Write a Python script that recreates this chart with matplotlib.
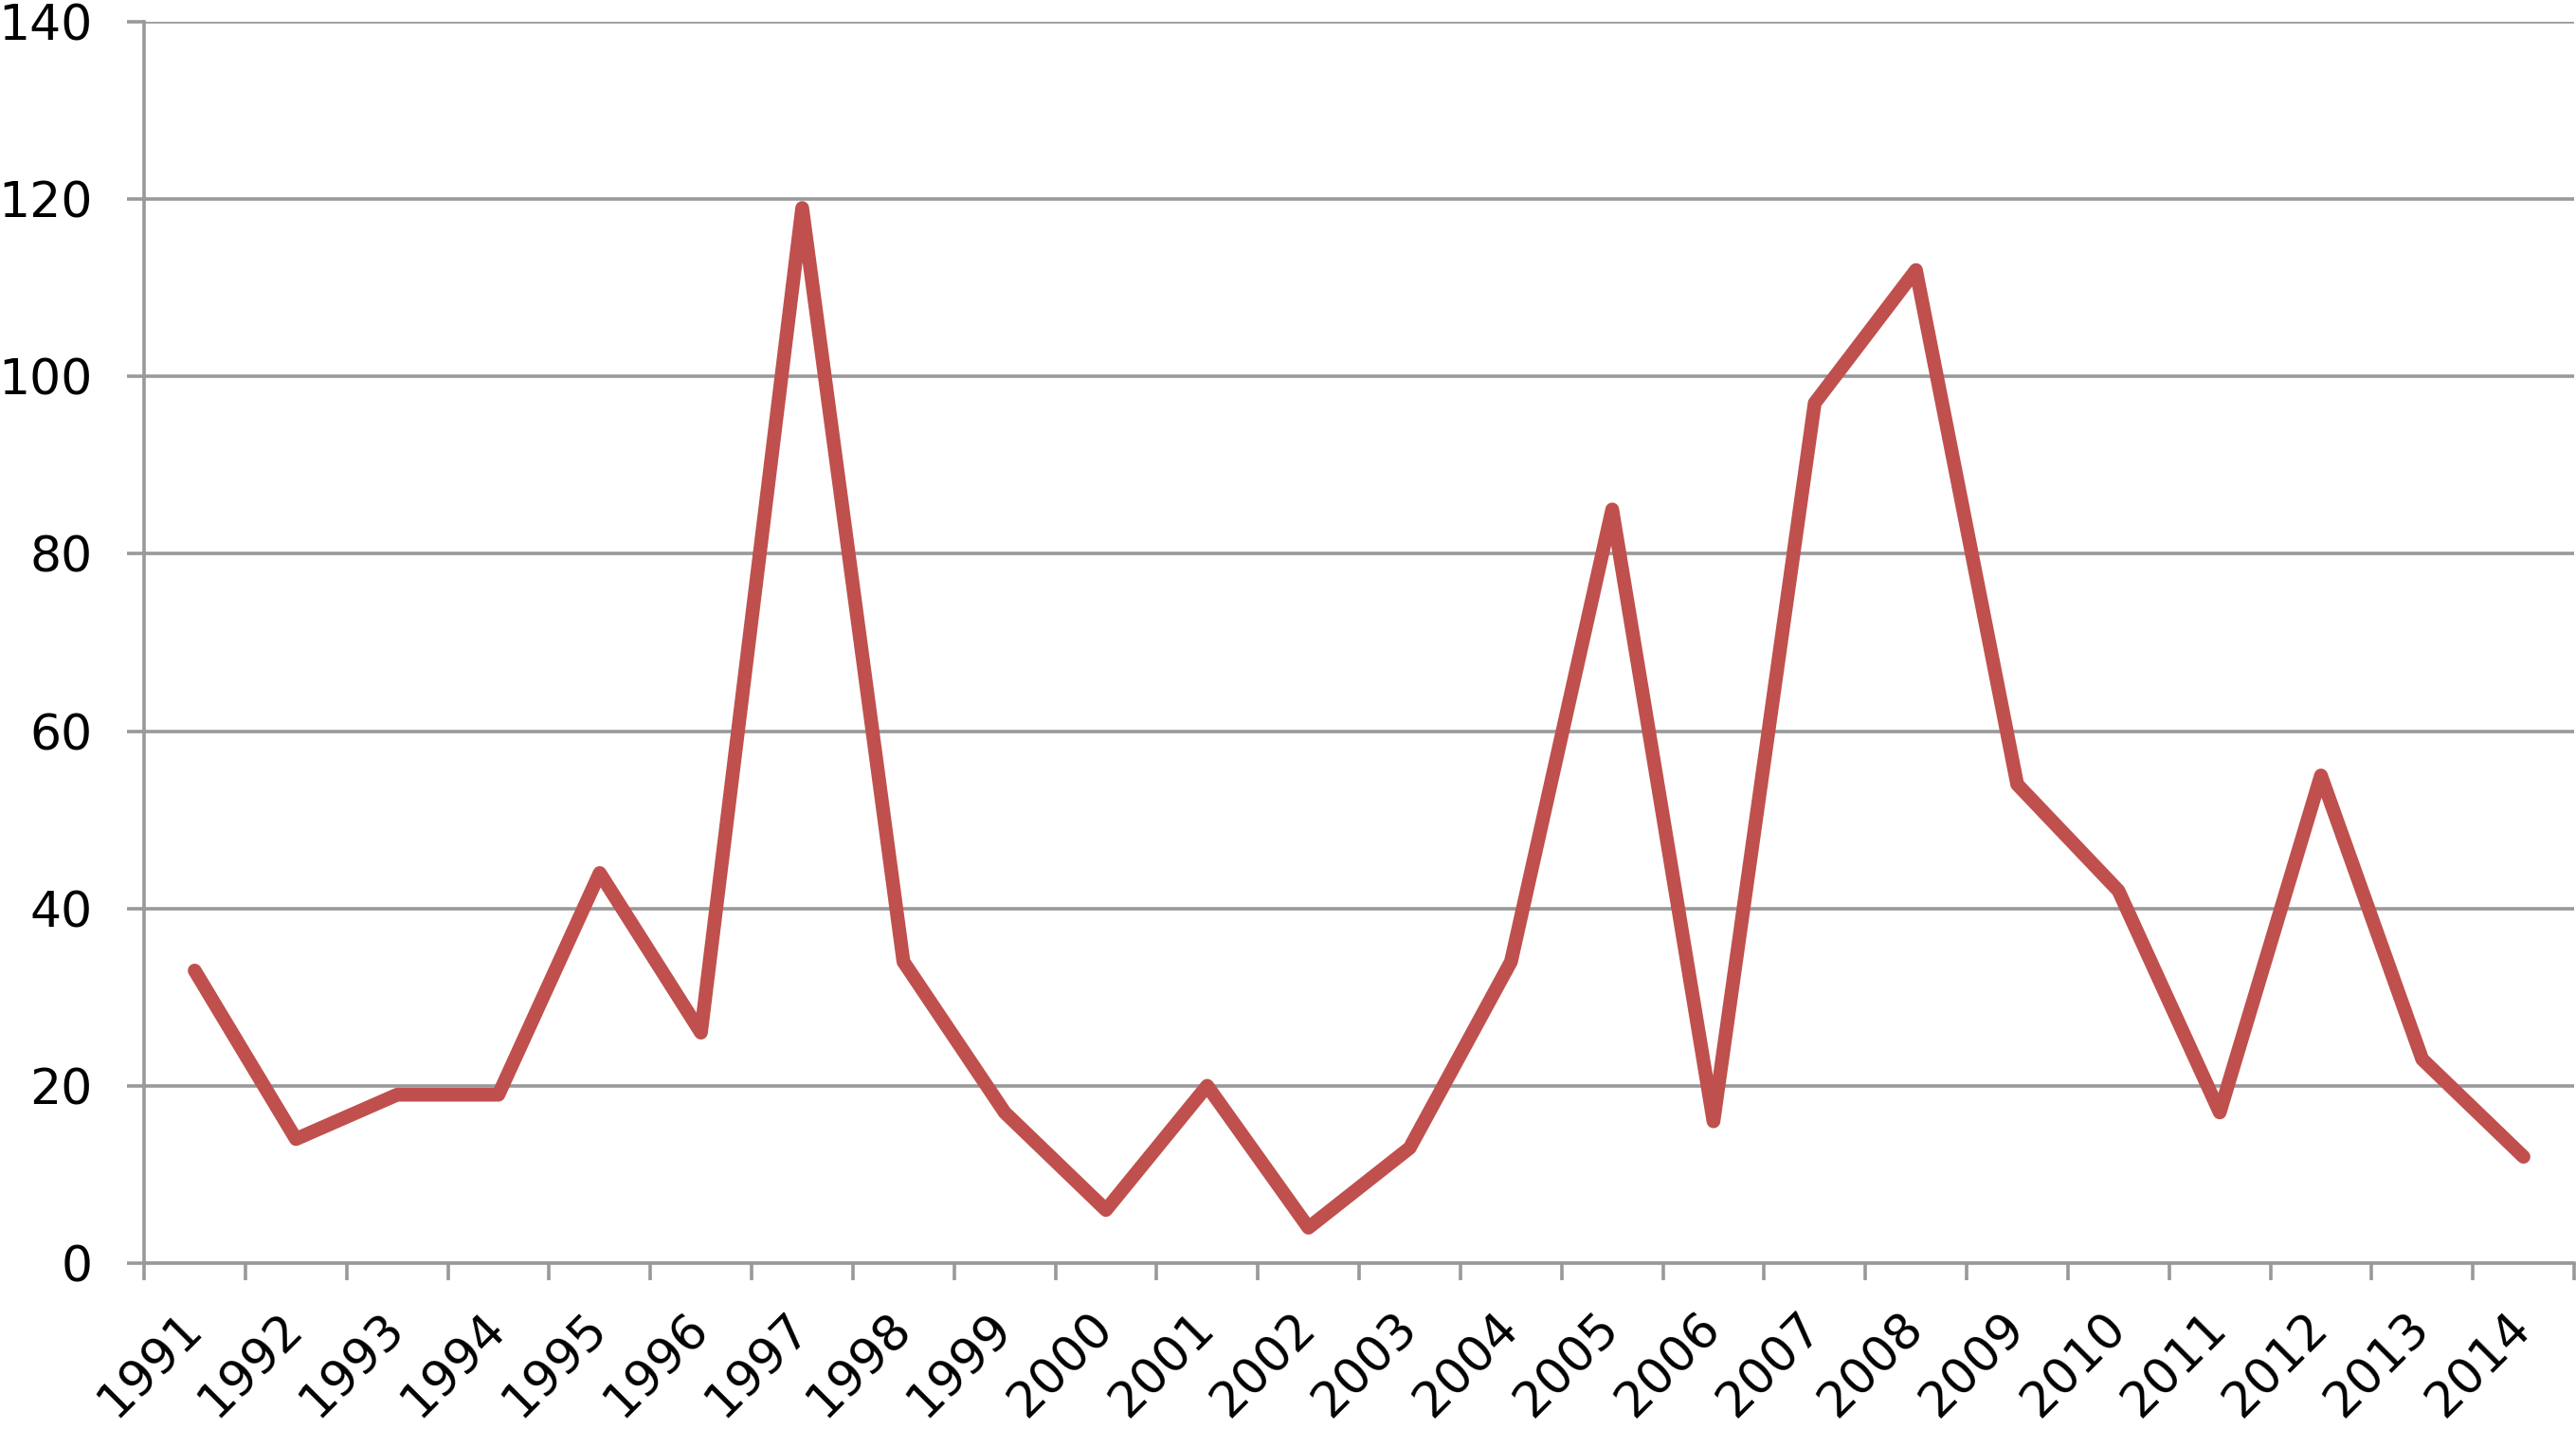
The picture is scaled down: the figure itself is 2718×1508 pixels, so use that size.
import matplotlib
matplotlib.use("Agg")
import matplotlib.pyplot as plt

YEARS = [str(y) for y in range(1991, 2015)]
VALUES = [33, 14, 19, 19, 44, 26, 119, 34, 17, 6, 20, 4, 13, 34, 85, 16,
          97, 112, 54, 42, 17, 55, 23, 12]
YTICKS = [0, 20, 40, 60, 80, 100, 120, 140]

LINE = "#c0504d"
GREY = "#999999"
FS = 37.5

plt.rcParams["font.family"] = ["DejaVu Sans"]

fig = plt.figure(figsize=(27.18, 15.08), dpi=100)
ax = fig.add_axes([152 / 2718, 1 - 1333 / 1508, (2716 - 152) / 2718, (1333 - 23) / 1508])

xs = [i + 0.5 for i in range(len(YEARS))]
ax.plot(xs, VALUES, color=LINE, lw=10.5, solid_capstyle="round",
        solid_joinstyle="round", clip_on=False, zorder=3)

ax.set_xlim(0, len(YEARS))
ax.set_ylim(0, 140)
ax.set_yticks(YTICKS)
ax.set_yticklabels([str(v) for v in YTICKS], fontsize=FS)
ax.yaxis.grid(True, color=GREY, lw=2.6)
ax.set_axisbelow(True)

# category boundaries get the tick marks, centres get the labels
ax.set_xticks(range(len(YEARS) + 1))
ax.set_xticklabels([])
ax.set_xticks(xs, minor=True)
ax.set_xticklabels(YEARS, minor=True, fontsize=FS, rotation=45,
                   ha="right", va="center", rotation_mode="anchor")

ax.tick_params(axis="y", length=13, width=2.6, color=GREY, pad=26)
ax.tick_params(axis="x", which="major", length=13, width=2.6, color=GREY)
ax.tick_params(axis="x", which="minor", length=0, pad=44)

for s in ("top", "right"):
    ax.spines[s].set_visible(False)
for s in ("left", "bottom"):
    ax.spines[s].set_color(GREY)
    ax.spines[s].set_linewidth(2.6)

fig.savefig("out.png", facecolor="white")
